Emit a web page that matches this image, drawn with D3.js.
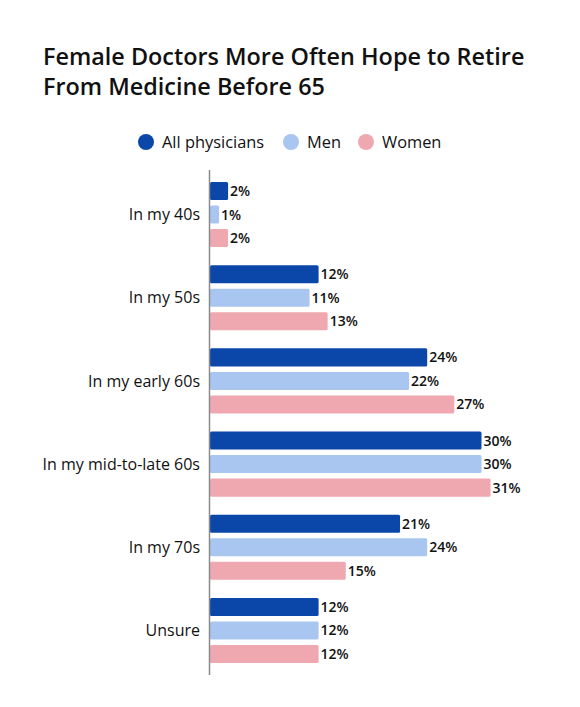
<!DOCTYPE html>
<html>

<head>
    <meta charset="utf-8">
    <style>
        body { margin: 0; background: #fff; }
        svg { display: block; font-family: "Open Sans", "Noto Sans", sans-serif; }
        .title { font-size: 23.4px; font-weight: 600; fill: #111; }
        .legend-label { font-size: 16.4px; font-weight: 500; fill: #111; }
        .cat-label { font-size: 16px; font-weight: 500; fill: #111; }
        .value-label { font-size: 14px; font-weight: 600; fill: #111; }
    </style>
</head>

<body>
    <div id="chart"></div>
    <script src="https://cdn.jsdelivr.net/npm/d3@7"></script>
    <script>
        var categories = ["In my 40s", "In my 50s", "In my early 60s", "In my mid-to-late 60s", "In my 70s", "Unsure"];
        var seriesNames = ["All physicians", "Men", "Women"];
        var allPhysicians = [2, 12, 24, 30, 21, 12];
        var men = [1, 11, 22, 30, 24, 12];
        var women = [2, 13, 27, 31, 15, 12];
        var seriesValues = [allPhysicians, men, women];
        var colors = ["#0A47A8", "#A9C6F0", "#F0A8B0"];
        var titleLines = ["Female Doctors More Often Hope to Retire", "From Medicine Before 65"];

        var width = 580, height = 707;
        var margin = { top: 173, left: 210, bottom: 35 };

        var svg = d3.select("#chart").append("svg")
            .attr("width", width)
            .attr("height", height);

        // title
        svg.append("text")
            .attr("class", "title")
            .selectAll("tspan")
            .data(titleLines)
            .enter().append("tspan")
            .attr("x", 43)
            .attr("y", function (d, i) { return 65 + i * 30; })
            .text(function (d) { return d; });

        // legend
        var legendX = [146, 291, 366];
        var legend = svg.append("g").attr("class", "legend");
        var items = legend.selectAll("g")
            .data(seriesNames)
            .enter().append("g")
            .attr("transform", function (d, i) { return "translate(" + legendX[i] + ",142)"; });
        items.append("circle")
            .attr("r", 8)
            .attr("fill", function (d, i) { return colors[i]; });
        items.append("text")
            .attr("class", "legend-label")
            .attr("x", 16)
            .attr("dy", "0.35em")
            .text(function (d) { return d; });

        var x = d3.scaleLinear()
            .domain([0, 1])
            .range([0, 9.05]);

        var y = d3.scaleBand()
            .domain(categories)
            .range([margin.top, height - margin.bottom])
            .paddingInner(0.217)
            .paddingOuter(0.108);

        var ySub = d3.scaleBand()
            .domain(d3.range(seriesNames.length))
            .range([0, y.bandwidth()])
            .paddingInner(0.234);

        var g = svg.append("g");

        var groups = g.selectAll(".group")
            .data(categories)
            .enter().append("g")
            .attr("class", "group")
            .attr("transform", function (d) { return "translate(0," + y(d) + ")"; });

        groups.selectAll("rect")
            .data(function (d, ci) { return seriesValues.map(function (s, si) { return { si: si, v: s[ci] }; }); })
            .enter().append("rect")
            .attr("x", margin.left)
            .attr("y", function (d) { return ySub(d.si); })
            .attr("width", function (d) { return x(d.v); })
            .attr("height", ySub.bandwidth())
            .attr("rx", 1.5)
            .attr("fill", function (d) { return colors[d.si]; });

        groups.selectAll(".value-label")
            .data(function (d, ci) { return seriesValues.map(function (s, si) { return { si: si, v: s[ci] }; }); })
            .enter().append("text")
            .attr("class", "value-label")
            .attr("x", function (d) { return margin.left + x(d.v) + 2; })
            .attr("y", function (d) { return ySub(d.si) + ySub.bandwidth() / 2; })
            .attr("dy", "0.36em")
            .text(function (d) { return d.v + "%"; });

        groups.append("text")
            .attr("class", "cat-label")
            .attr("x", 200)
            .attr("y", y.bandwidth() / 2)
            .attr("dy", "0.36em")
            .attr("text-anchor", "end")
            .text(function (d) { return d; });

        // axis line
        g.append("line")
            .attr("x1", margin.left - 0.5)
            .attr("x2", margin.left - 0.5)
            .attr("y1", 170)
            .attr("y2", 675)
            .attr("stroke", "#8a8a8a")
            .attr("stroke-width", 1.5);
    </script>
</body>

</html>
